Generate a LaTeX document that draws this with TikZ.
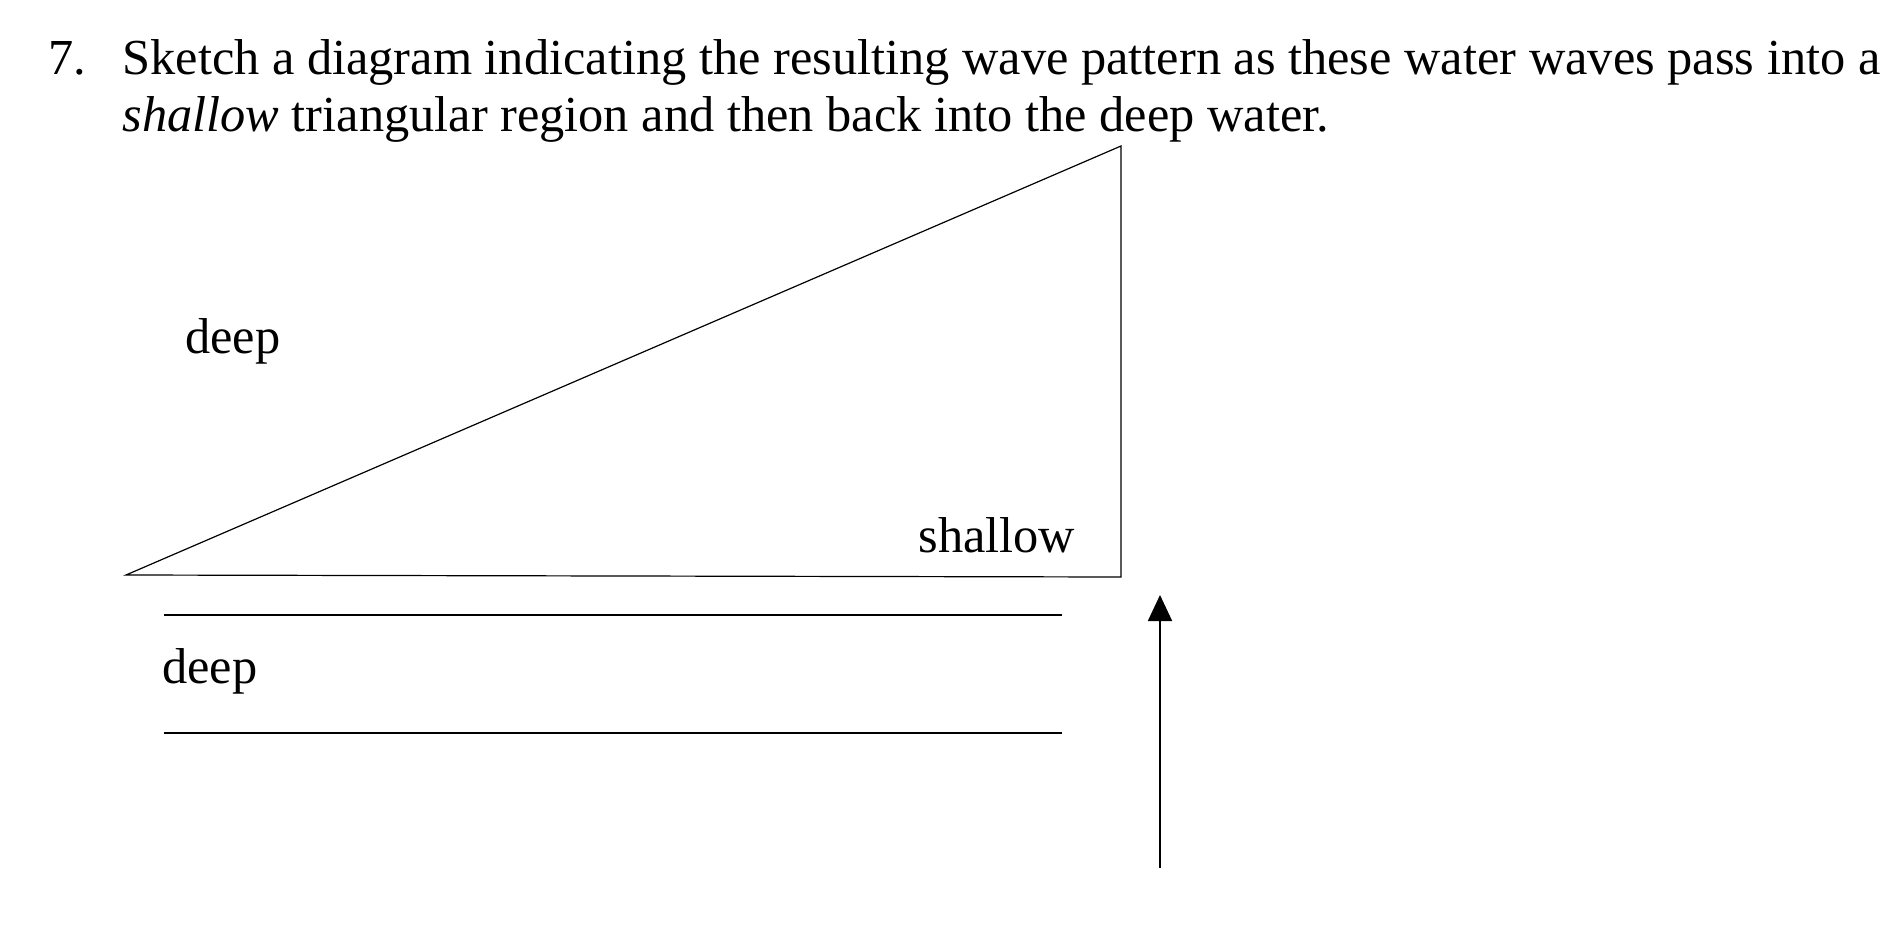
\documentclass[tikz,border=0pt]{standalone}
\usepackage{fontspec}
\setmainfont{Liberation Serif}
\usetikzlibrary{arrows.meta}
\begin{document}
\begin{tikzpicture}[x=0.5pt,y=-0.5pt,
	every node/.style={inner sep=0pt, anchor=base west, font=\fontsize{25.2}{30}\selectfont}]
		\useasboundingbox (0,0) rectangle (1902,942);
		\pgfmathsetmacro{\xL}{164}
		\pgfmathsetmacro{\xR}{1062}
		\coordinate (A) at (126,575);
		\coordinate (B) at (1121,577);
		\coordinate (C) at (1121,146);
		
		\coordinate (W1a) at (\xL,615);
		\coordinate (W1b) at (\xR,615);
		\coordinate (W2a) at (\xL,733);
		\coordinate (W2b) at (\xR,733);
		
		\coordinate (S) at (1160,868);
		\coordinate (H) at (1160,595);
		
		\node (num) at (48,74) {7.};
		\node (q1) at (122,74) {Sketch a diagram indicating the resulting wave pattern as these water waves pass into a};
		\node (q2) at (122,131) {\textit{shallow} triangular region and then back into the deep water.};
		
		\draw[line width=0.6pt] (A) -- (B) -- (C) -- cycle;
		\draw[line width=0.7pt] (W1a) -- (W1b);
		\draw[line width=0.7pt] (W2a) -- (W2b);
		\node (deepA) at (185,353) {deep};
		\node (shallow) at (918,552) {shallow};
		\node (deepB) at (162,683) {deep};
		\draw[-{Triangle[width=12pt,length=13pt]}, line width=0.9pt] (S) -- (H);
\end{tikzpicture}
\end{document}
